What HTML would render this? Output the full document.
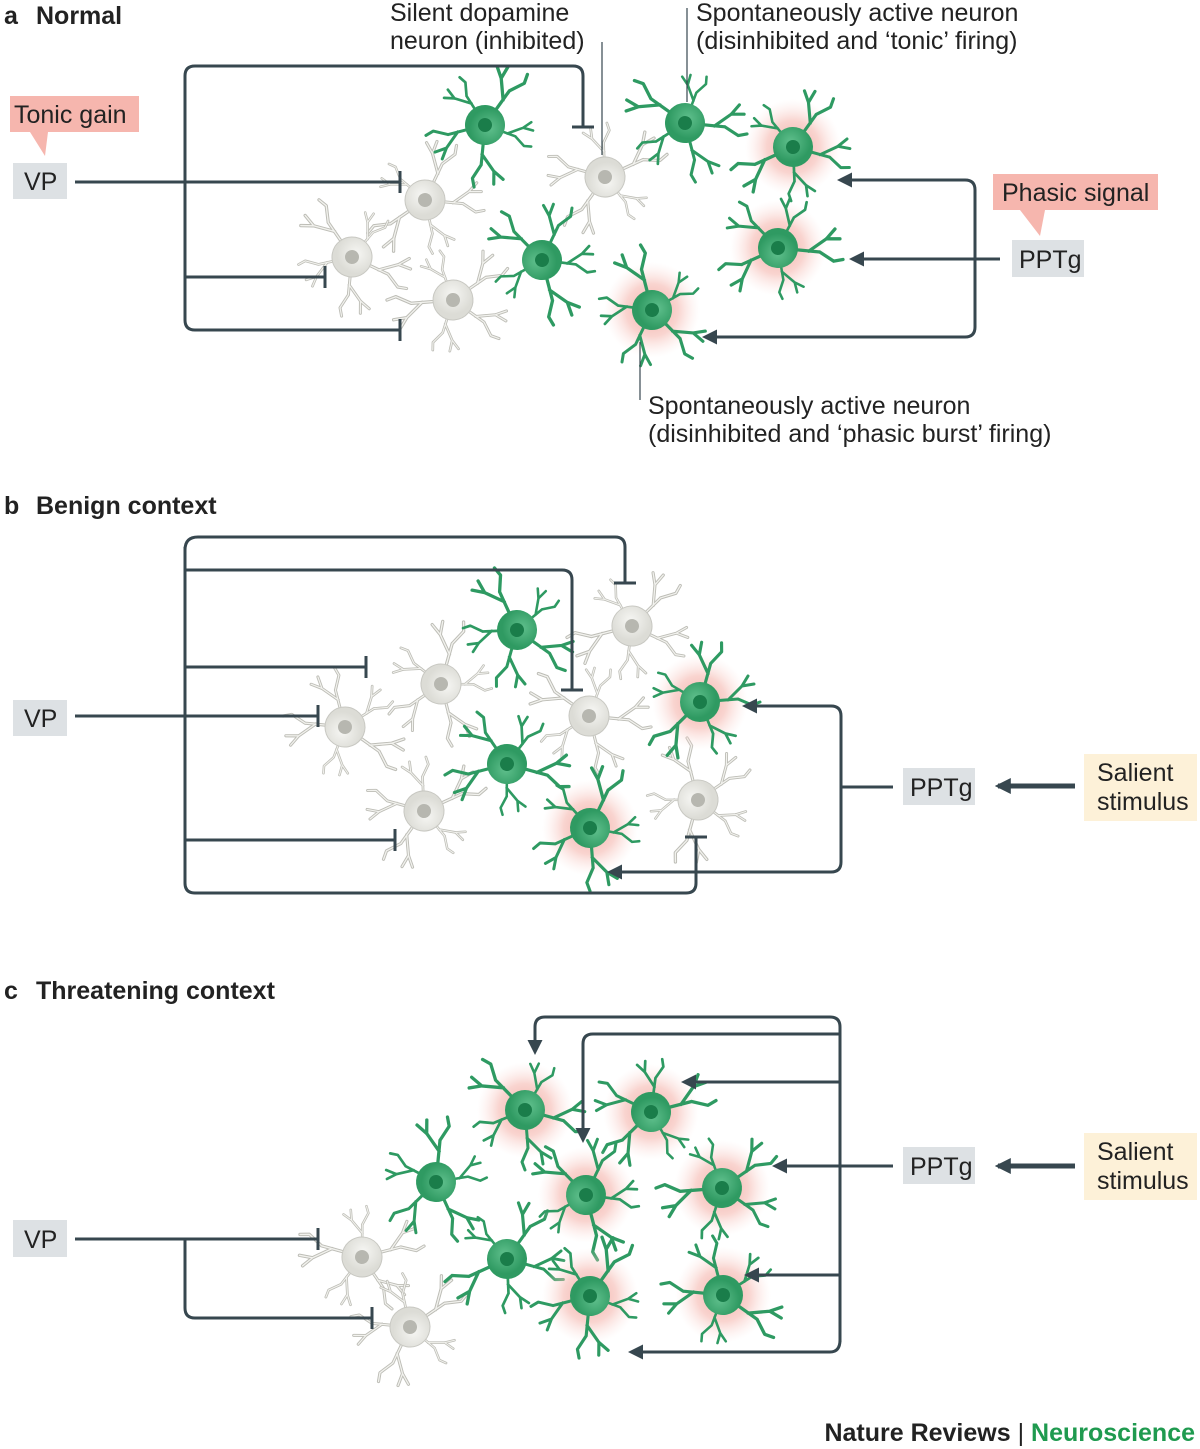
<!DOCTYPE html>
<html><head><meta charset="utf-8"><style>
html,body{margin:0;padding:0;background:#fff}
svg{display:block}
text{font-family:"Liberation Sans",sans-serif}
</style></head><body>
<svg width="1200" height="1449" viewBox="0 0 1200 1449" xmlns="http://www.w3.org/2000/svg">
<defs>
<radialGradient id="glow"><stop offset="0" stop-color="#f2a7a0" stop-opacity="0.95"/><stop offset="0.55" stop-color="#f5b8b0" stop-opacity="0.6"/><stop offset="1" stop-color="#fbe0dc" stop-opacity="0"/></radialGradient>
<radialGradient id="gbody" cx="0.4" cy="0.4"><stop offset="0" stop-color="#5fbf8c"/><stop offset="1" stop-color="#2f9a62"/></radialGradient>
<radialGradient id="ybody" cx="0.4" cy="0.4"><stop offset="0" stop-color="#f6f6f3"/><stop offset="1" stop-color="#dcdcd6"/></radialGradient>
<path id="br" d="M0 0 L38 -3 M28 -2 L42 -16 L48 -26 M38 -3 L52 3 L60 0 M42 -16 L54 -18" fill="none" stroke-linecap="round" stroke-linejoin="round"/>
<g id="arms">
<use href="#br"/><use href="#br" transform="rotate(72) scale(0.9)"/><use href="#br" transform="rotate(140) scale(1.1)"/><use href="#br" transform="rotate(215) scale(0.85)"/><use href="#br" transform="rotate(290) scale(1.05)"/>
</g>
<g id="gn"><g stroke="#2e9a62" stroke-width="3"><use href="#arms"/></g><circle r="20" fill="url(#gbody)"/><circle r="7" fill="#1a7d4a"/></g>
<g id="yn"><g stroke="#bdbdb6" stroke-width="3"><use href="#arms"/></g><g stroke="#f2f2ee" stroke-width="1.2"><use href="#arms"/></g><circle r="20" fill="url(#ybody)" stroke="#c8c8c2"/><circle r="7" fill="#b7b7b0"/></g>
<g id="rn"><circle r="48" fill="url(#glow)"/><use href="#gn"/></g>
<marker id="ah" viewBox="0 0 10 10" refX="8" refY="5" markerWidth="5" markerHeight="5" orient="auto"><path d="M0 0 L10 5 L0 10 Z" fill="#37474f"/></marker>
<marker id="ah2" viewBox="0 0 10 10" refX="8" refY="5" markerWidth="3.2" markerHeight="3.2" orient="auto"><path d="M0 0 L10 5 L0 10 Z" fill="#37474f"/></marker>
</defs>

<!-- Panel a -->
<g>
<use href="#yn" transform="translate(425,200) rotate(10)"/>
<use href="#yn" transform="translate(605,177) rotate(200)"/>
<use href="#yn" transform="translate(352,257) rotate(100)"/>
<use href="#yn" transform="translate(453,300) rotate(40)"/>
<use href="#gn" transform="translate(485,125) rotate(170)"/>
<use href="#gn" transform="translate(685,123) rotate(80)"/>
<use href="#gn" transform="translate(542,260) rotate(300)"/>
<use href="#rn" transform="translate(793,147) rotate(20)"/>
<use href="#rn" transform="translate(778,248) rotate(230)"/>
<use href="#rn" transform="translate(652,310) rotate(120)"/>
</g>
<g fill="none" stroke="#37474f" stroke-width="3" stroke-linejoin="round">
<path d="M75 182 H400 M400 171 V193"/>
<path d="M400 330 H195 Q185 330 185 320 V76 Q185 66 195 66 H573 Q583 66 583 76 V127 M572 127 H594"/>
<path d="M185 277 H325 M325 266 V288"/>
<path d="M400 319 V341"/>
<path d="M1000 259 H852" marker-end="url(#ah)"/>
<path d="M975 250 V190 Q975 180 965 180 H840" marker-end="url(#ah)"/>
<path d="M975 250 V327 Q975 337 965 337 H705" marker-end="url(#ah)"/>
</g>
<g stroke="#37474f" stroke-width="1.2"><path d="M602 42 V155 M687 8 V102 M640 342 V400"/></g>
<rect x="10" y="96" width="129" height="36" fill="#f6b6ae"/><path d="M30 132 L45 156 L48 132 Z" fill="#f6b6ae"/>
<text x="14" y="123" font-size="25" fill="#222">Tonic gain</text>
<rect x="13" y="163" width="54" height="36" fill="#dde1e4"/><text x="24" y="190" font-size="25" fill="#222">VP</text>
<rect x="993" y="174" width="165" height="36" fill="#f6b6ae"/><path d="M1020 210 L1040 236 L1045 210 Z" fill="#f6b6ae"/>
<text x="1002" y="201" font-size="25" fill="#222">Phasic signal</text>
<rect x="1012" y="240" width="72" height="37" fill="#dde1e4"/><text x="1019" y="268" font-size="25" fill="#222">PPTg</text>
<text font-size="25" fill="#222"><tspan x="390" y="21">Silent dopamine</tspan><tspan x="390" y="49">neuron (inhibited)</tspan></text>
<text font-size="25" fill="#222"><tspan x="696" y="21">Spontaneously active neuron</tspan><tspan x="696" y="49">(disinhibited and ‘tonic’ firing)</tspan></text>
<text font-size="25" fill="#222"><tspan x="648" y="414">Spontaneously active neuron</tspan><tspan x="648" y="442">(disinhibited and ‘phasic burst’ firing)</tspan></text>
<text x="4" y="24" font-size="25" font-weight="bold" fill="#222">a<tspan x="36">Normal</tspan></text>

<!-- Panel b -->
<g>
<use href="#yn" transform="translate(632,626) rotate(30)"/>
<use href="#yn" transform="translate(441,684) rotate(150)"/>
<use href="#yn" transform="translate(345,727) rotate(260)"/>
<use href="#yn" transform="translate(589,716) rotate(80)"/>
<use href="#yn" transform="translate(424,811) rotate(200)"/>
<use href="#yn" transform="translate(698,800) rotate(330)"/>
<use href="#gn" transform="translate(517,630) rotate(110)"/>
<use href="#gn" transform="translate(507,764) rotate(240)"/>
<use href="#rn" transform="translate(700,702) rotate(0)"/>
<use href="#rn" transform="translate(590,828) rotate(160)"/>
</g>
<g fill="none" stroke="#37474f" stroke-width="3" stroke-linejoin="round">
<path d="M75 716 H318 M318 705 V727"/>
<path d="M185 550 Q185 537 198 537 H615 Q625 537 625 547 V583 M614 583 H636"/>
<path d="M185 570 H562 Q572 570 572 580 V690 M561 690 H583"/>
<path d="M185 547 V883 Q185 893 195 893 H686 Q696 893 696 883 V837 M685 837 H707"/>
<path d="M185 667 H366 M366 656 V678"/>
<path d="M185 840 H395 M395 829 V851"/>
<path d="M893 787 H841"/>
<path d="M841 787 V716 Q841 706 831 706 H745" marker-end="url(#ah)"/>
<path d="M841 787 V862 Q841 872 831 872 H610" marker-end="url(#ah)"/>
<path d="M1075 786 H998" stroke-width="5" marker-end="url(#ah2)"/>
</g>
<rect x="13" y="700" width="54" height="36" fill="#dde1e4"/><text x="24" y="727" font-size="25" fill="#222">VP</text>
<rect x="903" y="768" width="72" height="37" fill="#dde1e4"/><text x="910" y="796" font-size="25" fill="#222">PPTg</text>
<rect x="1084" y="754" width="113" height="67" fill="#fdf1d8"/>
<text font-size="25" fill="#222"><tspan x="1097" y="781">Salient</tspan><tspan x="1097" y="810">stimulus</tspan></text>
<text x="4" y="514" font-size="25" font-weight="bold" fill="#222">b<tspan x="36">Benign context</tspan></text>

<!-- Panel c -->
<g>
<use href="#yn" transform="translate(362,1257) rotate(60)"/>
<use href="#yn" transform="translate(410,1327) rotate(190)"/>
<use href="#gn" transform="translate(436,1182) rotate(140)"/>
<use href="#gn" transform="translate(507,1259) rotate(20)"/>
<use href="#rn" transform="translate(525,1110) rotate(90)"/>
<use href="#rn" transform="translate(651,1112) rotate(210)"/>
<use href="#rn" transform="translate(586,1195) rotate(300)"/>
<use href="#rn" transform="translate(722,1188) rotate(40)"/>
<use href="#rn" transform="translate(590,1296) rotate(170)"/>
<use href="#rn" transform="translate(723,1295) rotate(260)"/>
</g>
<g fill="none" stroke="#37474f" stroke-width="3" stroke-linejoin="round">
<path d="M75 1239 H318 M318 1228 V1250"/>
<path d="M185 1239 V1308 Q185 1318 195 1318 H372 M372 1307 V1329"/>
<path d="M893 1166 H775" marker-end="url(#ah)"/>
<path d="M840 1342 V1027 Q840 1017 830 1017 H545 Q535 1017 535 1027 V1052" marker-end="url(#ah)"/>
<path d="M840 1034 H593 Q583 1034 583 1044 V1140" marker-end="url(#ah)"/>
<path d="M840 1082 H684" marker-end="url(#ah)"/>
<path d="M840 1275 H747" marker-end="url(#ah)"/>
<path d="M840 1340 Q840 1352 830 1352 H631" marker-end="url(#ah)"/>
<path d="M1075 1166 H998" stroke-width="5" marker-end="url(#ah2)"/>
</g>
<rect x="13" y="1220" width="54" height="37" fill="#dde1e4"/><text x="24" y="1248" font-size="25" fill="#222">VP</text>
<rect x="903" y="1147" width="72" height="37" fill="#dde1e4"/><text x="910" y="1175" font-size="25" fill="#222">PPTg</text>
<rect x="1084" y="1133" width="113" height="67" fill="#fdf1d8"/>
<text font-size="25" fill="#222"><tspan x="1097" y="1160">Salient</tspan><tspan x="1097" y="1189">stimulus</tspan></text>
<text x="4" y="999" font-size="25" font-weight="bold" fill="#222">c<tspan x="36">Threatening context</tspan></text>

<text x="1195" y="1441" font-size="25" font-weight="bold" text-anchor="end" fill="#222">Nature Reviews <tspan font-weight="normal">|</tspan> <tspan fill="#1f9a4f">Neuroscience</tspan></text>
</svg>
</body></html>
